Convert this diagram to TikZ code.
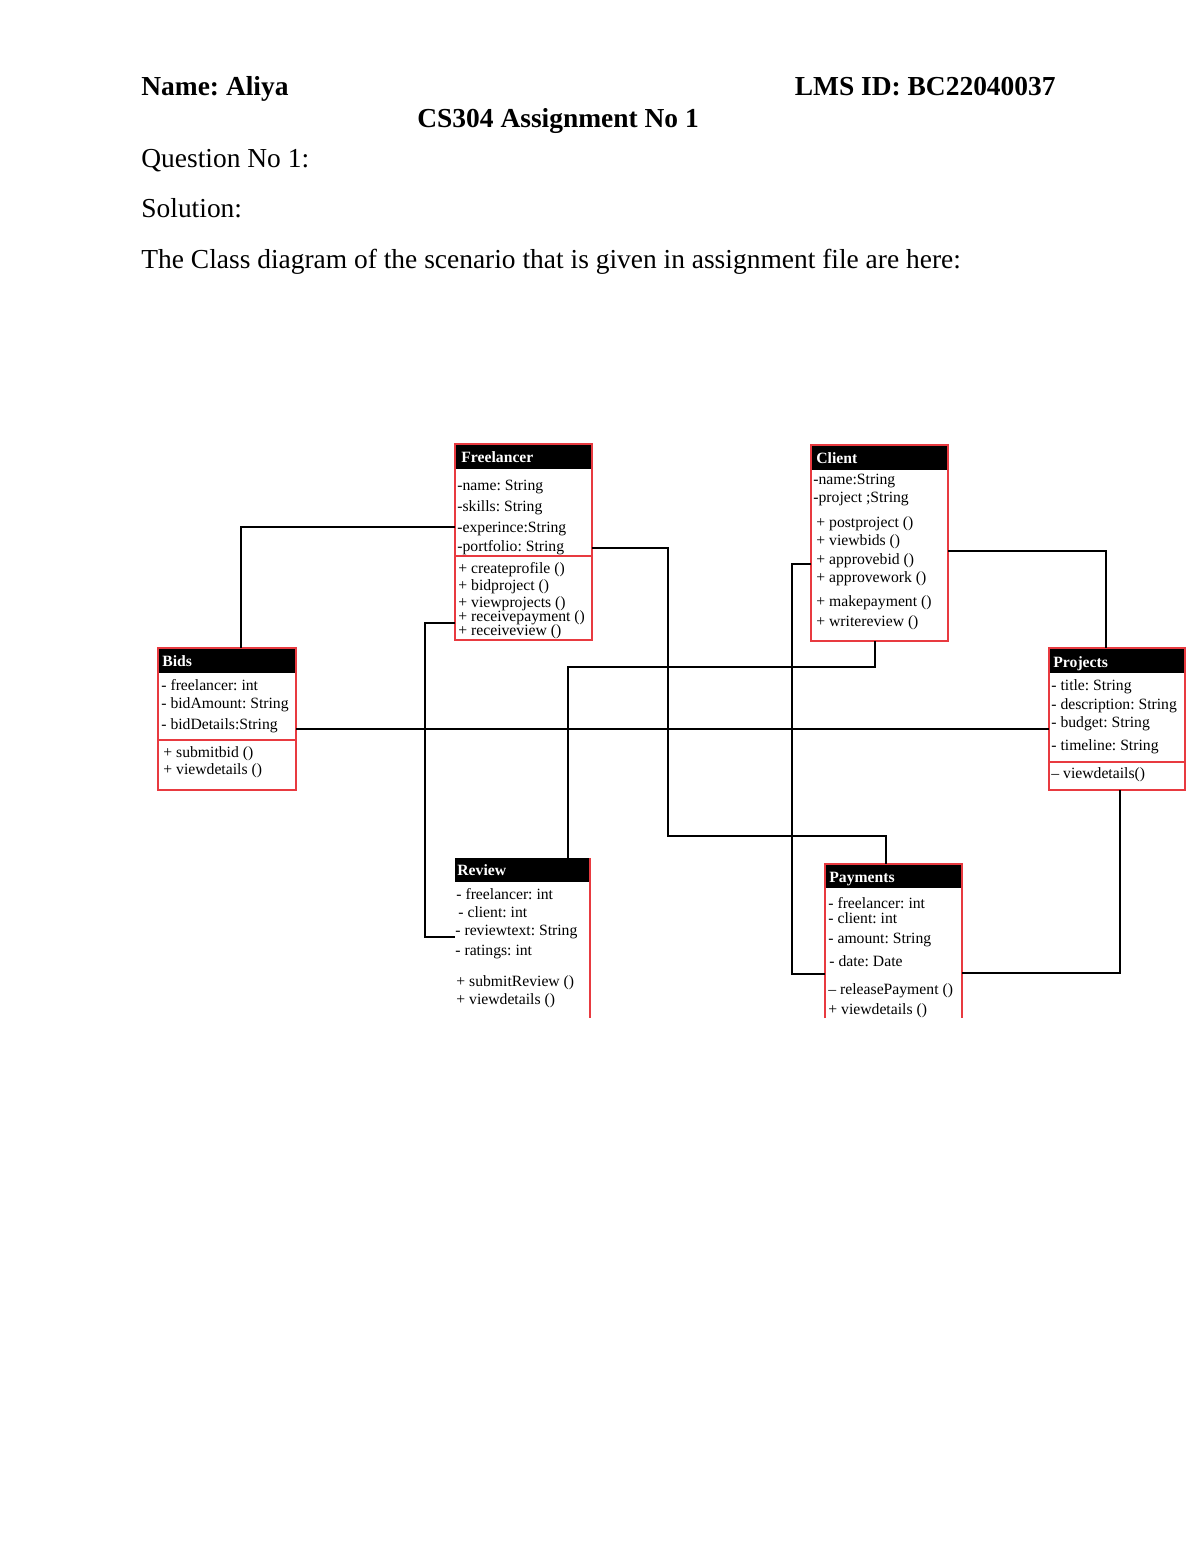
\documentclass[tikz,border=0pt]{standalone}
\usepackage{fontspec}
\setmainfont{Liberation Serif}
\usetikzlibrary{fit}
\definecolor{boxred}{RGB}{232,58,64}
\begin{document}
\frenchspacing
\begin{tikzpicture}[x=0.51pt,y=-0.51pt,
 conn/.style={draw=black,line width=1.5pt},
 thinconn/.style={draw=black,line width=0.6pt},
 cls/.style={draw=boxred,line width=1pt,inner sep=0pt,outer sep=0pt},
 clsnone/.style={draw=none,inner sep=0pt,outer sep=0pt},
 border/.style={draw=boxred,line width=1pt},
 hdr/.style={fill=black},
 hdrtext/.style={anchor=base west,inner sep=0pt,font=\bfseries\fontsize{8}{9}\selectfont,text=white},
 item/.style={anchor=base west,inner sep=0pt,font=\fontsize{8}{9}\selectfont},
 ptitle/.style={inner sep=0pt,font=\bfseries\fontsize{14}{16}\selectfont},
 ptext/.style={anchor=base west,inner sep=0pt,font=\fontsize{14}{16}\selectfont}]
\useasboundingbox (0,0) rectangle (1200,1553);
\fill[white] (0,0) rectangle (1200,1553);

% page header
\node[ptitle,anchor=base west] (name) at (141,96) {Name: Aliya};
\node[ptitle,anchor=base east] (lms) at (1056,96) {LMS ID: BC22040037};
\node[ptitle,anchor=base west] (title) at (417,128) {CS304 Assignment No 1};
\node[ptext] (q) at (141,168) {Question No 1:};
\node[ptext] (sol) at (141,218) {Solution:};
\node[ptext] (desc) at (141,268) {The Class diagram of the scenario that is given in assignment file are here:};

% header fills
\fill[hdr] (455,444) rectangle (592,469);
\fill[hdr] (811,445) rectangle (948,470);
\fill[hdr] (158,648) rectangle (296,673);
\fill[hdr] (1049,648) rectangle (1185,673);
\fill[hdr] (455,858) rectangle (590,882);
\fill[hdr] (825,864) rectangle (962,888);

% class boxes
\node[cls,fit={(455,444) (592,640)}] (freelancer) {};
\node[cls,fit={(811,445) (948,641)}] (client) {};
\node[cls,fit={(158,648) (296,790)}] (bids) {};
\node[cls,fit={(1049,648) (1185,790)}] (projects) {};
\node[clsnone,fit={(455,858) (590,1018)}] (review) {};
\node[clsnone,fit={(825,864) (962,1018)}] (payments) {};
\draw[border] (590,858) -- (590,1018);
\draw[border] (825,1018) -- (825,864) -- (962,864) -- (962,1018);

% separators
\draw[border] (455,556) -- (592,556);
\draw[border] (158,740) -- (296,740);
\draw[border] (1049,762) -- (1185,762);

% Freelancer
\node[hdrtext] (fh) at (461,462) {Freelancer};
\node[item] (f1) at (457,490) {-name: String};
\node[item] (f2) at (457,511) {-skills: String};
\node[item] (f3) at (457,532) {-experince:String};
\node[item] (f4) at (457,551) {-portfolio: String};
\node[item] (f5) at (458,573) {+ createprofile ()};
\node[item] (f6) at (458,590) {+ bidproject ()};
\node[item] (f7) at (458,607) {+ viewprojects ()};
\node[item] (f8) at (458,621) {+ receivepayment ()};
\node[item] (f9) at (458,635) {+ receiveview ()};

% Client
\node[hdrtext] (ch) at (816,463) {Client};
\node[item] (c1) at (813,484) {-name:String};
\node[item] (c2) at (813,502) {-project ;String};
\node[item] (c3) at (816,527) {+ postproject ()};
\node[item] (c4) at (816,545) {+ viewbids ()};
\node[item] (c5) at (816,564) {+ approvebid ()};
\node[item] (c6) at (816,582) {+ approvework ()};
\node[item] (c7) at (816,606) {+ makepayment ()};
\node[item] (c8) at (816,626) {+ writereview ()};

% Bids
\node[hdrtext] (bh) at (162,666) {Bids};
\node[item] (b1) at (161,690) {- freelancer: int};
\node[item] (b2) at (161,708) {- bidAmount: String};
\node[item] (b3) at (161,729) {- bidDetails:String};
\node[item] (b4) at (163,757) {+ submitbid ()};
\node[item] (b5) at (163,774) {+ viewdetails ()};

% Projects
\node[hdrtext] (ph) at (1053,667) {Projects};
\node[item] (p1) at (1051,690) {- title: String};
\node[item] (p2) at (1051,709) {- description: String};
\node[item] (p3) at (1051,727) {- budget: String};
\node[item] (p4) at (1051,750) {- timeline: String};
\node[item] (p5) at (1051,778) {– viewdetails()};

% Review
\node[hdrtext] (rh) at (457,875) {Review};
\node[item] (r1) at (456,899) {- freelancer: int};
\node[item] (r2) at (458,917) {- client: int};
\node[item] (r3) at (455,935) {- reviewtext: String};
\node[item] (r4) at (455,955) {- ratings: int};
\node[item] (r5) at (456,986) {+ submitReview ()};
\node[item] (r6) at (456,1004) {+ viewdetails ()};

% Payments
\node[hdrtext] (yh) at (829,882) {Payments};
\node[item] (y1) at (828,908) {- freelancer: int};
\node[item] (y2) at (828,923) {- client: int};
\node[item] (y3) at (828,943) {- amount: String};
\node[item] (y4) at (829,966) {- date: Date};
\node[item] (y5) at (828,994) {– releasePayment ()};
\node[item] (y6) at (828,1014) {+ viewdetails ()};

% connectors
\draw[conn] (bids.north -| 241,0) |- (freelancer.west |- 0,527);
\draw[conn] (freelancer.east |- 0,548) -| (668,836) -| (payments.north -| 886,0);
\draw[conn] (freelancer.west |- 0,623) -| (425,937) -- (review.west |- 0,937);
\draw[conn] (client.south -| 875,0) |- (568,667) -- (review.north -| 568,0);
\draw[conn] (client.west |- 0,564) -| (792,974) -- (payments.west |- 0,974);
\draw[conn] (client.east |- 0,551) -| (projects.north -| 1106,0);
\draw[thinconn] (bids.east |- 0,729) -- (projects.west |- 0,729);
\draw[conn] (projects.south -| 1120,0) |- (payments.east |- 0,973);
\end{tikzpicture}
\end{document}
